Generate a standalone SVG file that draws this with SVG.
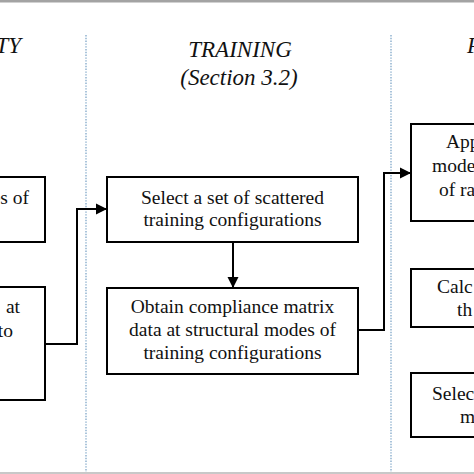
<svg xmlns="http://www.w3.org/2000/svg" width="474" height="474" viewBox="0 0 474 474">
<style>
.box{fill:#fff;stroke:#000;stroke-width:2}
.t{font-family:"Liberation Serif","Times New Roman",serif;font-size:19.5px;fill:#111}
.h{font-family:"Liberation Serif","Times New Roman",serif;font-size:23px;font-style:italic;fill:#111}
.c{text-anchor:middle}
.e{text-anchor:end}
.con{fill:none;stroke:#000;stroke-width:2}
.sep{stroke:#7fa6c8;stroke-width:1.3;stroke-dasharray:1.4 1.4}
</style>
<defs>
<marker id="arr" markerUnits="userSpaceOnUse" markerWidth="12" markerHeight="12" refX="11" refY="6" orient="auto">
<path d="M0,0.5 L11,6 L0,11.5 z" fill="#000"/>
</marker>
</defs>
<rect width="474" height="474" fill="#fff"/>
<rect x="0" y="0" width="474" height="2.5" fill="#a3a3a3"/>
<rect x="0" y="472" width="474" height="2" fill="#c8c8c8"/>
<g id="separators">
<line class="sep" x1="86" y1="35" x2="86" y2="472"/>
<line class="sep" x1="391" y1="35" x2="391" y2="472"/>
</g>
<g id="headers">
<text class="h e" x="21" y="53">TY</text>
<text class="h c" x="240" y="57">TRAINING</text>
<text class="h c" x="239" y="85">(Section 3.2)</text>
<text class="h" x="467" y="53">P</text>
</g>
<g id="left1">
<rect class="box" x="-20" y="177" width="65" height="65"/>
<text class="t e" x="29" y="204">es of</text>
</g>
<g id="left2">
<rect class="box" x="-20" y="287" width="65" height="113"/>
<text class="t e" x="20" y="313">at</text>
<text class="t e" x="13" y="337">to</text>
</g>
<g id="train1">
<rect class="box" x="107" y="177" width="251" height="65"/>
<text class="t c" x="232.5" y="204">Select a set of scattered</text>
<text class="t c" x="232.5" y="226">training configurations</text>
</g>
<g id="train2">
<rect class="box" x="107" y="288" width="251" height="86"/>
<text class="t c" x="232.5" y="313">Obtain compliance matrix</text>
<text class="t c" x="232.5" y="336">data at structural modes of</text>
<text class="t c" x="232.5" y="359">training configurations</text>
</g>
<g id="right1">
<rect class="box" x="411" y="124" width="100" height="97"/>
<text class="t" x="446" y="148">Appl</text>
<text class="t" x="432" y="172">mode</text>
<text class="t" x="439" y="196">of ra</text>
</g>
<g id="right2">
<rect class="box" x="411" y="269" width="100" height="58"/>
<text class="t" x="437" y="293">Calc</text>
<text class="t" x="457" y="316">th</text>
</g>
<g id="right3">
<rect class="box" x="411" y="373" width="100" height="64"/>
<text class="t" x="432" y="400">Selec</text>
<text class="t" x="460" y="423">m</text>
</g>
<g id="connectors">
<polyline class="con" points="45,344 77,344 77,209 107,209" marker-end="url(#arr)"/>
<polyline class="con" points="233,242 233,288" marker-end="url(#arr)"/>
<polyline class="con" points="358,330 384,330 384,173 411,173" marker-end="url(#arr)"/>
</g>
</svg>
